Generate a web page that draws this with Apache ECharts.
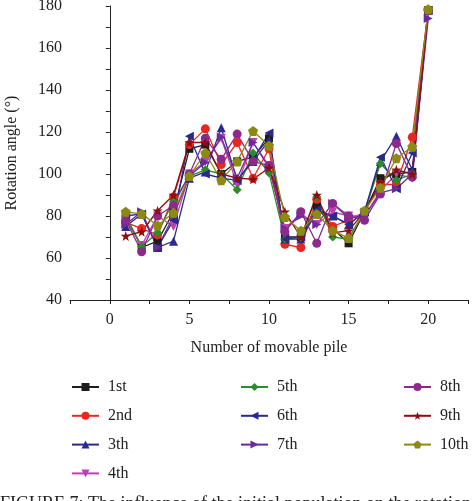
<!DOCTYPE html>
<html>
<head>
<meta charset="utf-8">
<script src="https://cdn.jsdelivr.net/npm/echarts@6/dist/echarts.min.js"></script>
<style>
  html, body {margin: 0; padding: 0; background: #fff;}
  #chart {width: 474px; height: 501px;}
</style>
</head>
<body>
<div id="chart"></div>
<script>
const piles = Array.from({length: 20}, (_, i) => i + 1)

const run1st = [80, 65, 68, 82, 112, 114, 100, 106, 108, 117, 70, 70, 85, 74, 67, 82, 98, 100, 101, 178]
const run2nd = [77, 74, 71, 89, 114, 121.5, 104.5, 115, 98, 112, 66.5, 65, 88, 75, 78, 82, 95, 95, 117.5, 178]
const run3th = [75, 81, 65, 68, 98, 101, 122, 97, 106, 116, 69, 69, 82, 80, 76, 82, 106, 118, 102, 178]
const run4th = [78, 66, 80, 75, 100, 106, 117, 95, 115, 104, 74, 81, 76, 82, 80, 80, 92, 100, 98, 177]
const run5th = [80, 65.5, 72, 87, 99, 102, 100, 92.5, 110, 100.5, 69, 70, 89, 70, 69, 82, 105, 97, 100, 178]
const run6th = [80, 81, 65, 78, 118, 100, 98, 97, 107, 119.5, 69, 70, 83, 80, 76, 82, 108, 93, 110, 178]
const run7th = [76, 82, 65, 80, 99, 105.5, 117.5, 98, 115, 103, 74, 80, 76, 86, 79, 80, 91, 93, 100, 174]
const run8th = [78, 63, 80, 85, 100, 117, 107, 119, 106, 104, 72.5, 82, 67, 86, 80, 78, 90.5, 114.5, 98.5, 178]
const run9th = [70.5, 72.5, 82.5, 90, 115, 115, 100, 98, 97.5, 103, 82, 70, 90, 72, 73, 82, 96, 102, 100, 178]
const run10th = [82, 81, 75.5, 81.5, 99, 110, 97, 106, 120.5, 113.5, 79.5, 73, 81, 73, 69.5, 82.5, 93.5, 107.5, 113, 178.5]

const seriesNames = ['1st', '2nd', '3th', '4th', '5th', '6th', '7th', '8th', '9th', '10th']
const seriesData = [run1st, run2nd, run3th, run4th, run5th, run6th, run7th, run8th, run9th, run10th]

const colors = ['#1c1c1c', '#e8281e', '#2c2a8e', '#c040b0', '#2a8c2a', '#2a2a8c', '#6a2a9c', '#8c2a8c', '#8c0c10', '#8c8a14']
const symbols = [
  'rect',
  'circle',
  'path://M0,-10 L10,8 L-10,8 Z',
  'path://M-10,-8 L10,-8 L0,10 Z',
  'diamond',
  'path://M-10,0 L8,-10 L8,10 Z',
  'path://M10,0 L-8,-10 L-8,10 Z',
  'circle',
  'path://M0,-10 L2.35,-3.24 L9.51,-3.09 L3.8,1.24 L5.88,8.09 L0,4 L-5.88,8.09 L-3.8,1.24 L-9.51,-3.09 L-2.35,-3.24 Z',
  'path://M0,-10 L9.51,-3.09 L5.88,8.09 L-5.88,8.09 L-9.51,-3.09 Z'
]
const symbolSizes = [8, 9, 9, 9, 9, 9, 9, 9, 10, 10]

const serif = '"Liberation Serif", "DejaVu Serif", serif'
const textColor = '#222'

const chart = echarts.init(document.getElementById('chart'))

const makeLegend = (names, left) => ({
  data: names,
  orient: 'vertical',
  left: left,
  top: 379,
  padding: 0,
  itemWidth: 27,
  itemHeight: 10,
  itemGap: 12.8,
  textStyle: {fontFamily: serif, fontSize: 16, color: textColor, padding: [0, 0, 0, 4]}
})

chart.setOption({
  backgroundColor: '#fff',
  animation: false,
  grid: {left: 70, right: 6, top: 6, bottom: 201, containLabel: false, outerBoundsMode: 'none'},
  legend: [
    makeLegend(['1st', '2nd', '3th', '4th'], 71),
    makeLegend(['5th', '6th', '7th'], 240),
    makeLegend(['8th', '9th', '10th'], 403)
  ],
  xAxis: {
    type: 'value',
    min: -2.5,
    max: 22.5,
    interval: 2.5,
    name: 'Number of movable pile',
    nameLocation: 'middle',
    nameGap: 40,
    nameTextStyle: {fontFamily: serif, fontSize: 16, color: textColor},
    axisLine: {lineStyle: {color: '#222', width: 1}},
    axisTick: {length: 4, lineStyle: {color: '#222'}},
    axisLabel: {
      fontFamily: serif,
      fontSize: 16,
      color: textColor,
      margin: 12,
      formatter: (v) => (v % 5 === 0 ? String(v) : '')
    },
    splitLine: {show: false}
  },
  yAxis: {
    type: 'value',
    min: 40,
    max: 180,
    interval: 20,
    name: 'Rotation angle (°)',
    nameLocation: 'middle',
    nameGap: 50,
    nameTextStyle: {fontFamily: serif, fontSize: 16, color: textColor},
    axisLine: {show: true, lineStyle: {color: '#222', width: 1}},
    axisTick: {show: true, length: 4, lineStyle: {color: '#222'}},
    minorTick: {show: true, splitNumber: 2, length: 4, lineStyle: {color: '#222'}},
    axisLabel: {fontFamily: serif, fontSize: 16, color: textColor, margin: 8},
    splitLine: {show: false}
  },
  series: seriesNames.map((name, i) => ({
    name: name,
    type: 'line',
    data: piles.map((x, j) => [x, seriesData[i][j]]),
    symbol: symbols[i],
    symbolSize: symbolSizes[i],
    showAllSymbol: true,
    lineStyle: {width: 1.3, color: colors[i]},
    itemStyle: {color: colors[i]}
  })),
  graphic: [{
    type: 'text',
    left: 0,
    top: 495,
    style: {
      text: 'FIGURE 7: The influence of the initial population on the rotation',
      font: '18px ' + serif,
      fill: '#222'
    }
  }]
})
</script>
</body>
</html>
